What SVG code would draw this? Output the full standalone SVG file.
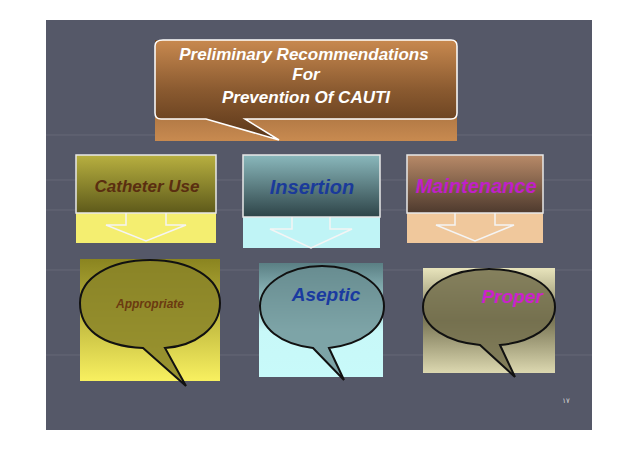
<svg xmlns="http://www.w3.org/2000/svg" width="638" height="451" viewBox="0 0 638 451">
<defs>
<linearGradient id="gBrown" x1="0" y1="0" x2="0" y2="1"><stop offset="0" stop-color="#c8894f"/><stop offset="0.5" stop-color="#8a5a30"/><stop offset="1" stop-color="#5a3618"/></linearGradient>
<linearGradient id="gBrownBg" x1="0" y1="0" x2="0" y2="1"><stop offset="0" stop-color="#6b4422"/><stop offset="1" stop-color="#c88a50"/></linearGradient>
<linearGradient id="gOlive" x1="0" y1="0" x2="0" y2="1"><stop offset="0" stop-color="#b8b040"/><stop offset="1" stop-color="#5e5a1a"/></linearGradient>
<linearGradient id="gYel" x1="0" y1="0" x2="0" y2="1"><stop offset="0" stop-color="#8a8420"/><stop offset="1" stop-color="#f8f060"/></linearGradient>
<linearGradient id="gTeal" x1="0" y1="0" x2="0" y2="1"><stop offset="0" stop-color="#8ab8bc"/><stop offset="1" stop-color="#2e4448"/></linearGradient>
<linearGradient id="gCyan" x1="0" y1="0" x2="0" y2="1"><stop offset="0" stop-color="#5a7f84"/><stop offset="0.6" stop-color="#c8f8f8"/><stop offset="1" stop-color="#c8fafa"/></linearGradient>
<linearGradient id="gTan" x1="0" y1="0" x2="0" y2="1"><stop offset="0" stop-color="#b88a68"/><stop offset="1" stop-color="#4e3a2e"/></linearGradient>
<linearGradient id="gPeach" x1="0" y1="0" x2="0" y2="1"><stop offset="0" stop-color="#8a6a50"/><stop offset="1" stop-color="#f0c8a0"/></linearGradient>
<linearGradient id="gKhaki" x1="0" y1="0" x2="0" y2="1"><stop offset="0" stop-color="#e8e4bc"/><stop offset="0.5" stop-color="#7a7656"/><stop offset="1" stop-color="#dcd8b0"/></linearGradient>
</defs>
<style>
.t{font-family:"Liberation Sans",Arial,sans-serif;font-weight:bold;font-style:italic;text-anchor:middle}
.bx{stroke:#e8e8e8;stroke-width:1.5}
.arr{fill:none;stroke:#f4f4f4;stroke-width:1.5}
.bub{stroke:#111;stroke-width:2}
</style>
<rect width="638" height="451" fill="#ffffff"/>
<rect x="46" y="20" width="546" height="410" fill="#555868"/>
<g stroke="#6a6d7c" stroke-width="0.8">
<line x1="46" y1="135" x2="592" y2="135"/><line x1="46" y1="180" x2="592" y2="180"/><line x1="46" y1="210" x2="592" y2="210"/><line x1="46" y1="270" x2="592" y2="270"/><line x1="46" y1="355" x2="592" y2="355"/>
</g>
<g id="title">
<rect x="155" y="40" width="302" height="101" fill="url(#gBrownBg)"/>
<path d="M163,40 H451 Q457,40 457,46 V113 Q457,119 451,119 H245 L279,140 L206,119 H161 Q155,119 155,113 V46 Q155,40 163,40 Z" fill="url(#gBrown)" stroke="#ffffff" stroke-width="1.5"/>
<text class="t" x="304" y="60" font-size="17" fill="#ffffff">Preliminary Recommendations</text>
<text class="t" x="306" y="80" font-size="17" fill="#ffffff">For</text>
<text class="t" x="306" y="103" font-size="17" fill="#ffffff">Prevention Of CAUTI</text>
</g>
<g id="catheter">
<rect x="76" y="193" width="140" height="50" fill="#f4ee70"/>
<rect class="bx" x="76" y="155" width="140" height="58" fill="url(#gOlive)"/>
<path class="arr" d="M126,213 V225 H106 L146,241 L186,225 H166 V213"/>
<text class="t" x="147" y="192" font-size="17" fill="#5a2e10">Catheter Use</text>
</g>
<g id="insertion">
<rect x="243" y="198" width="137" height="50" fill="#c0f4f6"/>
<rect class="bx" x="243" y="155" width="137" height="62" fill="url(#gTeal)"/>
<path class="arr" d="M292,217 V229 H270 L311,248 L352,229 H330 V217"/>
<text class="t" x="312" y="194" font-size="20" fill="#1a3a9a">Insertion</text>
</g>
<g id="maintenance">
<rect x="407" y="193" width="136" height="50" fill="#f0c89c"/>
<rect class="bx" x="407" y="155" width="136" height="58" fill="url(#gTan)"/>
<path class="arr" d="M455,213 V225 H436 L475,241 L514,225 H495 V213"/>
<text class="t" x="476" y="193" font-size="20" fill="#c020c8">Maintenance</text>
</g>
<g id="appropriate">
<rect x="80" y="259" width="140" height="122" fill="url(#gYel)"/>
<path class="bub" d="M143,348 C100,346 80,328 80,303 C80,278 110,260 150,260 C190,260 220,278 220,303 C220,328 195,346 165,348 L186,386 Z" fill="#8a8428" fill-opacity="0.85"/>
<text class="t" x="150" y="308" font-size="12" fill="#6b3a10">Appropriate</text>
</g>
<g id="aseptic">
<rect x="259" y="263" width="124" height="114" fill="url(#gCyan)"/>
<path class="bub" d="M313,348 C280,344 260,328 260,306 C260,284 288,266 322,266 C356,266 384,284 384,306 C384,328 362,344 329,348 L344,380 Z" fill="#6a8e92" fill-opacity="0.8" stroke-width="1.5"/>
<text class="t" x="326" y="301" font-size="19" fill="#1a3aa0">Aseptic</text>
</g>
<g id="proper">
<rect x="423" y="268" width="132" height="105" fill="url(#gKhaki)"/>
<path class="bub" d="M480,345 C447,342 423,327 423,307 C423,285 452,269 489,269 C526,269 555,285 555,307 C555,327 532,342 500,345 L515,377 Z" fill="#74704e" fill-opacity="0.85" stroke-width="1.5"/>
<text class="t" x="512" y="303" font-size="19" fill="#cc22cc">Proper</text>
</g>
<text x="566" y="403" font-family="DejaVu Sans,sans-serif" font-size="7" fill="#d8d8d8" text-anchor="middle">١٧</text>
</svg>
